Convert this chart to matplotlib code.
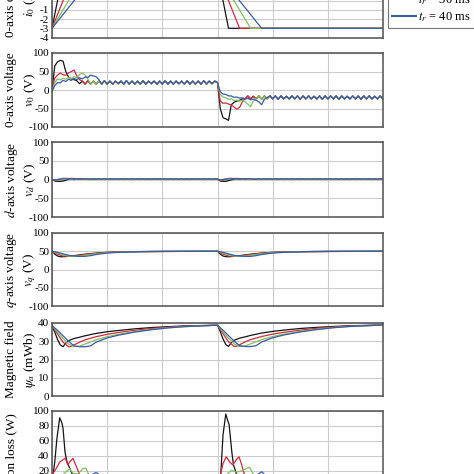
import numpy as np
import matplotlib.pyplot as plt

plt.rcParams['font.family'] = ['Liberation Serif', 'DejaVu Serif']
plt.rcParams['mathtext.fontset'] = 'stix'
plt.rcParams['axes.unicode_minus'] = False

# ---------------- data (time in ms) ----------------
rise_times = ['10 ms', '20 ms', '30 ms', '40 ms']
colors = ['#151515', '#d22b3d', '#80c060', '#3a5ba6']

# 0-axis current: ramp breakpoints
i0_t = [[0, 10, 150, 160, 300],
        [0, 20, 150, 170, 300],
        [0, 30, 150, 180, 300],
        [0, 40, 150, 190, 300]]
i0_v = [[-3, 3, 3, -3, -3]] * 4

# rippled signals are sampled every 2.5 ms
t_grid = np.arange(0, 300.1, 2.5)

v0_base = [
    20, 24, 16, 24, 16, 25, 16, 24, 16, 24, 17, 24, 16, 25, 16, 24, 16, 24, 16, 25,
    16, 24, 16, 24, 17, 24, 16, 25, 16, 24, 16, 24, 16, 25, 16, 24, 17, 24, 16, 24,
    16, 25, 16, 24, 16, 24, 17, 24, 16, 25, 16, 24, 16, 24, 16, 25, 16, 24, 17, 24,
    20, -16, -24, -16, -24, -17, -24, -16, -25, -16, -24, -16, -24, -17, -24, -16, -25, -16, -24, -16,
    -24, -16, -25, -16, -24, -17, -24, -16, -24, -16, -25, -16, -24, -16, -24, -17, -24, -16, -25, -16,
    -24, -16, -24, -16, -25, -16, -24, -17, -24, -16, -24, -16, -25, -16, -24, -16, -24, -17, -24, -16,
    -24]
# transient parts: (start index, values)
v0_trans = [
    [(0, [0, 65, 76, 80, 78, 50, 35, 30, 28, 25]),
     (60, [20, -50, -75, -78, -82, -40, -33, -30, -28, -24])],
    [(0, [0, 32, 40, 46, 41, 40, 46, 50, 54, 38, 28]),
     (60, [20, -30, -36, -35, -38, -40, -46, -52, -47, -32, -24])],
    [(0, [0, 20, 30, 27, 32, 29, 34, 31, 36, 33, 42, 46, 40, 30]),
     (60, [20, -12, -19, -21, -25, -24, -28, -27, -30, -28, -32, -38, -45, -30, -22])],
    [(0, [-5, 12, 20, 19, 26, 23, 29, 26, 31, 28, 33, 30, 35, 34, 40, 38, 36, 28]),
     (60, [20, -5, -11, -12, -16, -16, -20, -19, -22, -21, -24, -23, -26, -25, -28, -32, -40, -25, -20])],
]

vd_base = [
    0.5, 2, 0.5, 2, 0.5, 2, 0.5, 2, 0.5, 2, 0.5, 2, 0.5, 2, 0.5, 2, 0.5, 2, 0.5, 2,
    0.5, 2, 0.5, 2, 0.5, 2, 0.5, 2, 0.5, 2, 0.5, 2, 0.5, 2, 0.5, 2, 0.5, 2, 0.5, 2,
    0.5, 2, 0.5, 2, 0.5, 2, 0.5, 2, 0.5, 2, 0.5, 2, 0.5, 2, 0.5, 2, 0.5, 2, 0.5, 2,
    0.5, 2, 0.5, 2, 0.5, 2, 0.5, 2, 0.5, 2, 0.5, 2, 0.5, 2, 0.5, 2, 0.5, 2, 0.5, 2,
    0.5, 2, 0.5, 2, 0.5, 2, 0.5, 2, 0.5, 2, 0.5, 2, 0.5, 2, 0.5, 2, 0.5, 2, 0.5, 2,
    0.5, 2, 0.5, 2, 0.5, 2, 0.5, 2, 0.5, 2, 0.5, 2, 0.5, 2, 0.5, 2, 0.5, 2, 0.5, 2,
    0.5]
vd_trans = [
    [(0, [0, -4, -5, -5, -4, -2, 0.5]), (60, [1, -4, -5, -5, -3, -1, 0.5])],
    [(0, [0, -2, -1, 1, 3, 3, 2.5, 3, 2.5, 2]), (60, [1, -2, -1, 1, 3, 3, 2.5, 3, 2])],
    [(0, [0, -1, 0, 1, 2, 2, 2, 2, 2, 2, 1.5, 2]), (60, [1, -1, 0, 1, 2, 2, 2, 2, 2, 2, 1.5, 2])],
    [(0, [0, -1, 0, 1, 1.5, 2, 2, 2, 2, 2, 2, 2, 1.5, 1]), (60, [1, -1, 0, 1, 1.5, 2, 2, 2, 2, 2, 2, 2, 1.5, 1])],
]

# q-axis voltage breakpoints
vq_t = [[0, 2.5, 5, 7.5, 10, 15, 20, 25, 30, 40, 50, 60, 80, 100, 150,
         152.5, 155, 157.5, 160, 165, 170, 175, 180, 190, 200, 210, 230, 250, 300],
        [0, 5, 10, 15, 20, 25, 30, 40, 50, 60, 80, 100, 150,
         155, 160, 165, 170, 175, 180, 190, 200, 210, 230, 250, 300],
        [0, 5, 10, 15, 20, 25, 30, 40, 50, 60, 80, 100, 150,
         155, 160, 165, 170, 175, 180, 190, 200, 210, 230, 250, 300],
        [0, 5, 10, 15, 20, 25, 30, 35, 40, 50, 60, 80, 100, 150,
         155, 160, 165, 170, 175, 180, 185, 190, 200, 210, 230, 250, 300]]
vq_v = [[50, 42, 37, 35, 35, 36, 38, 40, 42, 45, 47, 48, 49, 49.5, 50,
         42, 37, 35, 35, 36, 38, 40, 42, 45, 47, 48, 49, 49.5, 50],
        [50, 42, 37, 36, 37, 39, 41, 44, 46.5, 48, 49, 49.5, 50,
         42, 37, 36, 37, 39, 41, 44, 46.5, 48, 49, 49.5, 50],
        [50, 45, 40, 37, 36, 37, 39, 43, 46, 47.5, 49, 49.5, 50,
         45, 40, 37, 36, 37, 39, 43, 46, 47.5, 49, 49.5, 50],
        [50, 47, 43, 39, 37, 36, 36, 38, 41, 45, 47, 49, 49.5, 50,
         47, 43, 39, 37, 36, 36, 38, 41, 45, 47, 49, 49.5, 50]]

# magnetic field breakpoints
psi_t = [[0, 2.5, 5, 7.5, 10, 12.5, 15, 20, 25, 30, 40, 50, 60, 75, 90, 105, 120, 135, 150,
          152.5, 155, 157.5, 160, 162.5, 165, 170, 175, 180, 190, 200, 210, 225, 240, 255, 270, 285, 300],
         [0, 5, 10, 15, 17.5, 20, 25, 30, 40, 50, 60, 75, 90, 105, 120, 135, 150,
          155, 160, 165, 167.5, 170, 175, 180, 190, 200, 210, 225, 240, 255, 270, 285, 300],
         [0, 5, 10, 15, 20, 25, 30, 40, 50, 60, 75, 90, 105, 120, 135, 150,
          155, 160, 165, 170, 175, 180, 190, 200, 210, 225, 240, 255, 270, 285, 300],
         [0, 5, 10, 15, 20, 25, 30, 35, 40, 50, 60, 75, 90, 105, 120, 135, 150,
          155, 160, 165, 170, 175, 180, 185, 190, 200, 210, 225, 240, 255, 270, 285, 300]]
psi_v = [[38.5, 35, 31, 28, 27, 29, 30.3, 31.5, 32.2, 33, 34.3, 35.2, 35.9, 36.8, 37.5, 38, 38.4, 38.6, 38.8,
          35.3, 31.3, 28.2, 27.2, 29.2, 30.5, 31.7, 32.4, 33.2, 34.5, 35.4, 36.1, 37, 37.6, 38.1, 38.5, 38.7, 38.9],
         [38.5, 34, 29.5, 27, 27.2, 28, 29.5, 30.8, 32.5, 33.8, 34.8, 36, 37, 37.7, 38.2, 38.5, 38.8,
          34.2, 29.7, 27.2, 27.3, 28.1, 29.6, 30.9, 32.6, 33.9, 34.9, 36.1, 37.1, 37.8, 38.3, 38.6, 38.9],
         [38.5, 35, 31.5, 28.5, 27, 27.3, 28.5, 30.8, 32.5, 33.8, 35.3, 36.5, 37.4, 38, 38.4, 38.8,
          35.2, 31.7, 28.6, 27.1, 27.4, 28.6, 30.9, 32.6, 33.9, 35.4, 36.6, 37.5, 38.1, 38.5, 38.9],
         [38.5, 36, 33, 30, 27.5, 27, 27, 27.5, 29.5, 31.8, 33.3, 35, 36.3, 37.3, 38, 38.4, 38.8,
          36.1, 33.1, 30.1, 27.6, 27.1, 27.1, 27.6, 29.6, 31.9, 33.4, 35.1, 36.4, 37.4, 38.1, 38.5, 38.9]]

# loss breakpoints
loss_t = [[0, 1, 2.5, 4.5, 7, 9, 10, 11.8, 13.6, 16, 18, 22, 30, 150,
           152, 153, 155, 157.5, 159.5, 160.5, 163, 164.5, 167, 170, 180, 300],
          [0, 1, 4.5, 7, 12, 14.5, 16, 19, 22.6, 25, 30, 150,
           152, 153, 155, 158, 161, 164, 167, 169.5, 172, 174, 180, 300],
          [0, 5, 8, 10, 13.6, 16, 19, 23.5, 28, 30.8, 33, 36, 45, 150,
           155, 159.5, 163, 166, 169.5, 173, 176, 179, 182, 186, 195, 300],
          [0, 10, 20, 30, 36, 40, 43, 48, 55, 150,
           160, 170, 180, 186, 190, 193, 198, 205, 300]]
loss_v = [[0, 15, 32, 64, 91, 84, 77, 45, 32, 24, 17, 8, 2, 0,
           5, 17, 68, 96, 86, 82, 45, 28, 17, 8, 1, 0],
          [0, 17, 25, 32, 37, 28, 32, 37, 24, 15, 5, 0,
           10, 17, 30, 39, 32, 28, 35, 39, 28, 17, 5, 0],
          [0, 6, 12, 15, 20, 23, 17, 16, 23, 24, 16, 8, 1, 0,
           8, 17, 21, 19, 19, 21, 23, 25, 17, 8, 1, 0],
          [0, 5, 9, 12, 15, 18, 15, 8, 2, 0,
           5, 9, 12, 15, 19, 15, 8, 2, 0]]


def splice(base, parts):
    y = list(base)
    for start, seg in parts:
        y[start:start + len(seg)] = seg
    return y


# ---------------- figure ----------------
W = H = 474
fig = plt.figure(figsize=(W / 100, H / 100), dpi=100)

left, right = 52, 383
panels_px = [(-36, 37.5), (53, 127), (142, 217), (233, 306), (323, 396), (411, 486)]
axes = []
for top, bot in panels_px:
    ax = fig.add_axes([left / W, 1 - bot / H, (right - left) / W, (bot - top) / H])
    axes.append(ax)

lw = 0.9
lines = []
for k in range(4):
    ln, = axes[0].plot(i0_t[k], i0_v[k], color=colors[k], lw=lw)
    lines.append(ln)
    axes[1].plot(t_grid, splice(v0_base, v0_trans[k]), color=colors[k], lw=lw)
    axes[2].plot(t_grid, splice(vd_base, vd_trans[k]), color=colors[k], lw=lw)
    axes[3].plot(vq_t[k], vq_v[k], color=colors[k], lw=lw)
    axes[4].plot(psi_t[k], psi_v[k], color=colors[k], lw=lw)
    axes[5].plot(loss_t[k], loss_v[k], color=colors[k], lw=lw)

ylims = [(-4, 4), (-100, 100), (-100, 100), (-100, 100), (0, 40), (0, 100)]
yticks = [np.arange(-4, 5, 1), np.arange(-100, 101, 50), np.arange(-100, 101, 50),
          np.arange(-100, 101, 50), np.arange(0, 41, 10), np.arange(0, 101, 20)]
for ax, yl, yt in zip(axes, ylims, yticks):
    ax.set_xlim(0, 300)
    ax.set_ylim(*yl)
    ax.set_yticks(yt)
    ax.set_xticks(np.arange(0, 301, 50))
    ax.set_xticklabels([])
    ax.tick_params(length=0, pad=2, labelsize=8)
    ax.grid(True, color='#cccccc', lw=0.8)
    ax.set_axisbelow(True)
    for s in ax.spines.values():
        s.set_color('#505050')
        s.set_linewidth(1.1)

# top panel: labels above the canvas edge are not shown
axes[0].set_yticklabels([str(v) if v < 0 else '' for v in yticks[0]])

# y labels (two lines each)
ylabels = [('0-axis current', r'$i_0$ (A)'),
           ('0-axis voltage', r'$v_0$ (V)'),
           (r'$d$-axis voltage', r'$v_d$ (V)'),
           (r'$q$-axis voltage', r'$v_q$ (V)'),
           ('Magnetic field', r'$\psi_a$ (mWb)'),
           ('Iron loss (W)', None)]
for (top, bot), (l1, l2) in zip(panels_px, ylabels):
    yc = 1 - (top + bot) / 2 / H
    fig.text(11 / W, yc, l1, rotation=90, ha='center', va='center', fontsize=9.5)
    if l2:
        fig.text(30 / W, yc, l2, rotation=90, ha='center', va='center', fontsize=9.5)

leg = fig.legend(lines, [r'$t_r$ = ' + s for s in rise_times], loc='lower left',
                 bbox_to_anchor=(388 / W, 1 - 28 / H), bbox_transform=fig.transFigure,
                 borderaxespad=0, fontsize=9, frameon=True, fancybox=False,
                 handlelength=1.9, handletextpad=0.2, labelspacing=0.3, borderpad=0.3)
leg.get_frame().set_edgecolor('#555555')
leg.get_frame().set_linewidth(0.8)
for h in leg.get_lines():
    h.set_linewidth(1.5)

plt.savefig('out.png', dpi=100)
